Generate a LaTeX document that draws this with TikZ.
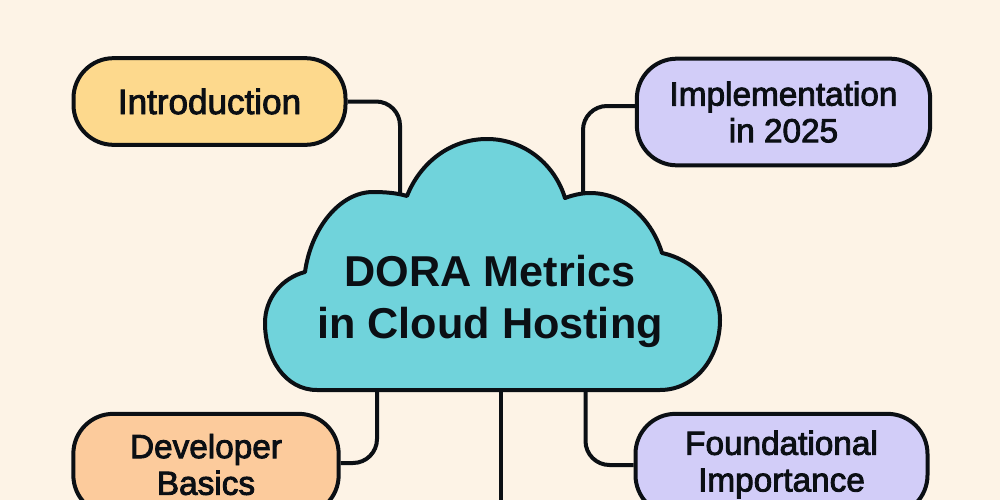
\documentclass[tikz,border=0pt]{standalone}
\usepackage{fontspec}
\setmainfont{Liberation Sans}
\newfontfamily\boxfont[FakeBold=2.6]{Liberation Sans}
\newfontfamily\cloudfont{Liberation Sans Bold}
\definecolor{bgc}{HTML}{FDF3E6}
\definecolor{inkc}{HTML}{0B0F14}
\definecolor{yellowc}{HTML}{FDD98D}
\definecolor{purplec}{HTML}{D2CDF8}
\definecolor{orangec}{HTML}{FCCB9C}
\definecolor{cyanc}{HTML}{70D3DB}
\tikzset{
  px/.style={x=0.75pt,y=-0.75pt},
  topicbox/.style={draw=inkc,line width=3pt,rounded corners=30pt,align=center,inner sep=0pt,
    text=inkc,font=\boxfont\fontsize{25pt}{25.5pt}\selectfont},
  largetext/.style={font=\boxfont\fontsize{26.3pt}{25.5pt}\selectfont},
  link/.style={draw=inkc,line width=3pt,rounded corners=18pt},
  cloudshape/.style={draw=inkc,fill=cyanc,line width=3pt,line join=round},
  cloudtext/.style={align=center,inner sep=0pt,text=inkc,
    font=\cloudfont\fontsize{32.4pt}{39pt}\selectfont}
}
\begin{document}
\begin{tikzpicture}[px]
\useasboundingbox (0,0) rectangle (1000,500);
\clip (0,0) rectangle (1000,500);
\fill[bgc] (0,0) rectangle (1000,500);
% boxes
\node[topicbox,largetext,fill=yellowc,minimum width=204pt,minimum height=65pt] (intro) at (209.5,101.5) {Introduction};
\node[topicbox,fill=purplec,minimum width=220pt,minimum height=80pt] (impl) at (783.5,112) {Implementation\\[2pt]in 2025};
\node[topicbox,fill=orangec,minimum width=199pt,minimum height=76pt] (dev) at (206,464.5) {Developer\\[2pt]Basics};
\node[topicbox,fill=purplec,minimum width=219pt,minimum height=76pt] (found) at (781.5,464.5) {Foundational\\[2pt]Importance};
% connector ends on the cloud
\coordinate (cTL) at (400,196);
\coordinate (cTR) at (583,198);
\coordinate (cBL) at (377,388);
\coordinate (cBM) at (500.5,388);
\coordinate (cBR) at (585.5,388);
\coordinate (bottomEnd) at (500.5,500);
% connectors
\draw[link] (intro.east) -- (cTL |- intro.east) -- (cTL);
\draw[link] (impl.west |- 0,106) -- (cTR |- 0,106) -- (cTR);
\draw[link] (cBL) -- (cBL |- 0,463) -- (dev.east |- 0,463);
\draw[link] (cBR) -- (cBR |- 0,465) -- (found.west |- 0,465);
\draw[link] (cBM) -- (bottomEnd);
% cloud
\draw[cloudshape] (317,390)
  .. controls (285,390) and (265,358) .. (265,323)
  .. controls (265,298) and (282,278) .. (305,272)
  .. controls (311,228) and (340,192) .. (373,192)
  .. controls (385,192) and (397,193) .. (407,196)
  .. controls (420,163) and (450,139) .. (487,139)
  .. controls (525,139) and (555,165) .. (565,198)
  .. controls (573,195) and (582,193) .. (590,193)
  .. controls (625,193) and (652,220) .. (662,253)
  .. controls (695,260) and (720,288) .. (720,320)
  .. controls (720,358) and (695,390) .. (660,390)
  -- cycle;
\node[cloudtext] (cloud) at (490,301.5) {DORA Metrics\\in Cloud Hosting};
\end{tikzpicture}
\end{document}
